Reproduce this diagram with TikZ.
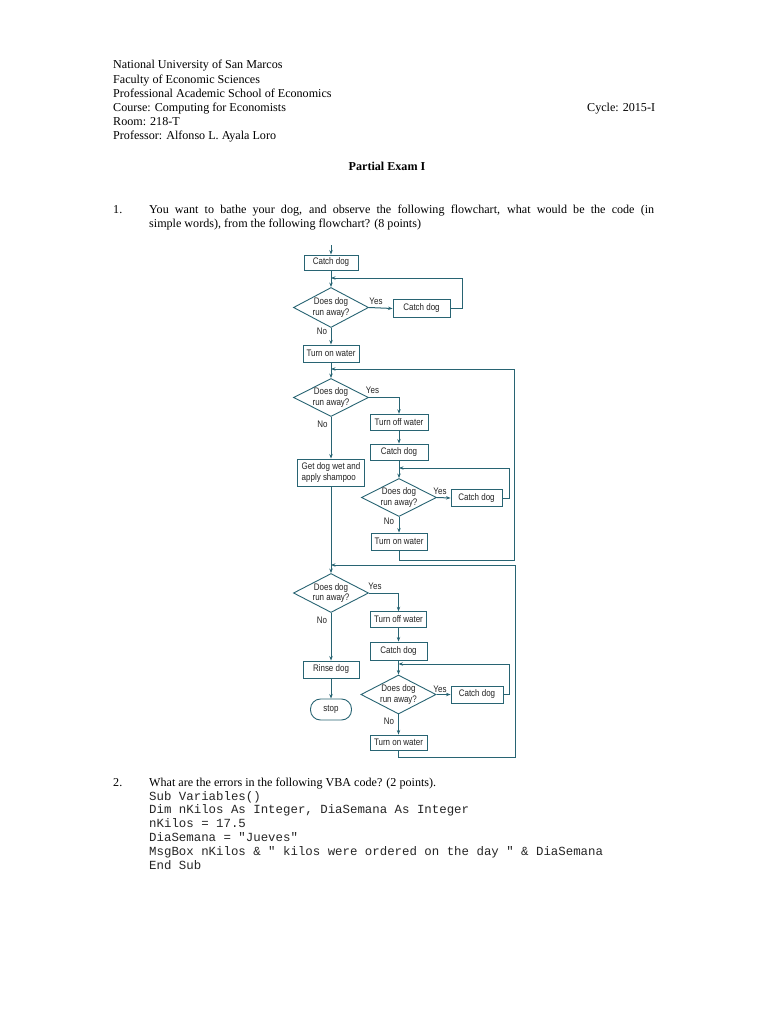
\documentclass[tikz,border=0pt]{standalone}
\usepackage{fontspec}
\usepackage{graphicx}
\setmainfont{Liberation Serif}
\setmonofont{Liberation Mono}
\newfontfamily\flowfont{Liberation Sans}
\usetikzlibrary{shapes.geometric,arrows.meta}
\definecolor{flowline}{RGB}{40,100,115}
\definecolor{flowtext}{RGB}{35,35,35}
\newcommand\ft[1]{\scalebox{0.84}[1]{#1}}
\begin{document}
\begin{tikzpicture}[x=1pt,y=-1pt,
  hdr/.style={anchor=base west, inner sep=0pt, font=\fontsize{12.1}{14}\selectfont},
  code/.style={anchor=base west, inner sep=0pt, text=black!85, font=\ttfamily\fontsize{12.4}{14}\selectfont},
  pbox/.style={draw=flowline, line width=0.9pt, fill=white, inner sep=0pt, text=flowtext,
    font=\flowfont\fontsize{9.5}{10.3}\selectfont, align=center},
  dbox/.style={pbox, diamond, aspect=2},
  lbl/.style={inner sep=0pt, text=flowtext, font=\flowfont\fontsize{9.5}{10}\selectfont},
  conn/.style={draw=flowline, line width=1pt, -{Stealth[length=4.5pt,width=3.4pt]}},
  wire/.style={draw=flowline, line width=1pt}]
\useasboundingbox[fill=white] (0,0) rectangle (768,1024);

% ---------- header ----------
\node[hdr] (h1) at (113,69) {National University of San Marcos};
\node[hdr] (h2) at (113,83.5) {Faculty of Economic Sciences};
\node[hdr] (h3) at (113,97.5) {Professional Academic School of Economics};
\node[hdr] (h4) at (113,111.5) {Course: Computing for Economists};
\node[hdr] (h5) at (587,111.5) {Cycle: 2015-I};
\node[hdr] (h6) at (113,125.5) {Room: 218-T};
\node[hdr] (h7) at (113,139.5) {Professor: Alfonso L. Ayala Loro};
\node[hdr, anchor=base, font=\bfseries\fontsize{12.1}{14}\selectfont] (title) at (387,171) {Partial Exam I};

% ---------- question 1 ----------
\node[hdr] (q1n) at (113,213.5) {1.};
\node[hdr] (q1a) at (149,213.5) {\makebox[505pt][s]{You want to bathe your dog, and observe the following flowchart, what would be the code (in}};
\node[hdr] (q1b) at (149,227.5) {simple words), from the following flowchart? (8 points)};

% ---------- flowchart ----------
\coordinate (s0) at (331,245);
\node[pbox, minimum width=54pt, minimum height=15pt] (c1) at (331,262.5) {\ft{Catch dog}};
\node[dbox, minimum width=74pt, minimum height=40pt] (d1) at (331,307.5) {\ft{Does dog}\\\ft{run away?}};
\node[pbox, minimum width=57pt, minimum height=18pt] (c2) at (421.5,308.5) {\ft{Catch dog}};
\node[pbox, minimum width=56pt, minimum height=17pt] (w1) at (331,353.5) {\ft{Turn on water}};
\node[lbl] (y1) at (376,301) {\ft{Yes}};
\node[lbl] (n1) at (322,331) {\ft{No}};
\coordinate (j1) at (331,278);

\node[dbox, minimum width=73pt, minimum height=38pt] (d2) at (331,397.5) {\ft{Does dog}\\\ft{run away?}};
\node[pbox, minimum width=58pt, minimum height=16.5pt] (off1) at (399,422.5) {\ft{Turn off water}};
\node[pbox, minimum width=58pt, minimum height=16pt] (c3) at (399,452) {\ft{Catch dog}};
\node[dbox, minimum width=73pt, minimum height=38pt] (d3) at (399,497.5) {\ft{Does dog}\\\ft{run away?}};
\node[pbox, minimum width=51pt, minimum height=17.5pt] (c4) at (476.5,498) {\ft{Catch dog}};
\node[pbox, minimum width=56pt, minimum height=17pt] (w2) at (399,541.5) {\ft{Turn on water}};
\node[pbox, minimum width=67pt, minimum height=27pt, align=left] (g1) at (331,472.5) {\ft{Get dog wet and}\\\ft{apply shampoo}};
\node[lbl] (y2) at (372.5,390) {\ft{Yes}};
\node[lbl] (n2) at (322.5,424) {\ft{No}};
\node[lbl] (y3) at (440,491) {\ft{Yes}};
\node[lbl] (n3) at (389,521.5) {\ft{No}};
\coordinate (j2) at (331,369);
\coordinate (r1) at (514,560);
\coordinate (j3) at (399,468);

\node[dbox, minimum width=75pt, minimum height=39pt] (d4) at (331,593) {\ft{Does dog}\\\ft{run away?}};
\node[pbox, minimum width=56pt, minimum height=15.5pt] (off2) at (398.5,619.5) {\ft{Turn off water}};
\node[pbox, minimum width=57pt, minimum height=18pt] (c5) at (398.5,651) {\ft{Catch dog}};
\node[dbox, minimum width=73pt, minimum height=39pt] (d5) at (398.5,694.5) {\ft{Does dog}\\\ft{run away?}};
\node[pbox, minimum width=52pt, minimum height=17pt] (c6) at (477,694.5) {\ft{Catch dog}};
\node[pbox, minimum width=57pt, minimum height=15pt] (w3) at (398.5,742.5) {\ft{Turn on water}};
\node[pbox, minimum width=56pt, minimum height=17pt] (rinse) at (331,669.5) {\ft{Rinse dog}};
\node[pbox, minimum width=41pt, minimum height=21pt, rounded corners=10pt] (stop) at (331,709.5) {\ft{stop}};
\node[lbl] (y4) at (375,586) {\ft{Yes}};
\node[lbl] (n4) at (322,620) {\ft{No}};
\node[lbl] (y5) at (440,689) {\ft{Yes}};
\node[lbl] (n5) at (389,721) {\ft{No}};
\coordinate (j4) at (331,565);
\coordinate (r2) at (515,757);
\coordinate (j5) at (398.5,664);

% connectors
\draw[conn] (s0) -- (c1);
\draw[conn] (c1) -- (d1);
\draw[conn] (d1.east) -- (c2.west);
\draw[conn] (c2.east) -- ++(12,0) |- (j1);
\draw[conn] (d1.south) -- (w1);
\draw[conn] (w1) -- (d2);

\draw[conn] (d2.east) -| (off1.north);
\draw[conn] (off1) -- (c3);
\draw[conn] (c3) -- (d3);
\draw[conn] (d3.east) -- (c4.west);
\draw[conn] (c4.east) -- ++(7.5,0) |- (j3);
\draw[conn] (d3.south) -- (w2);
\draw[conn] (w2.south) |- (r1) |- (j2);
\draw[conn] (d2.south) -- (g1);
\draw[conn] (g1.south) -- (d4.north);

\draw[conn] (d4.east) -| (off2.north);
\draw[conn] (off2) -- (c5);
\draw[conn] (c5) -- (d5);
\draw[conn] (d5.east) -- (c6.west);
\draw[conn] (c6.east) -- ++(6,0) |- (j5);
\draw[conn] (d5.south) -- (w3);
\draw[conn] (w3.south) |- (r2) |- (j4);
\draw[conn] (d4.south) -- (rinse);
\draw[conn] (rinse) -- (stop);

% ---------- question 2 ----------
\node[hdr] (q2n) at (113,786) {2.};
\node[hdr] (q2a) at (149,786) {What are the errors in the following VBA code? (2 points).};
\node[code] (k1) at (149,800) {Sub Variables()};
\node[code] (k2) at (149,813.8) {Dim nKilos As Integer, DiaSemana As Integer};
\node[code] (k3) at (149,827.6) {nKilos = 17.5};
\node[code] (k4) at (149,841.4) {DiaSemana = "Jueves"};
\node[code] (k5) at (149,855.2) {MsgBox nKilos \& " kilos were ordered on the day " \& DiaSemana};
\node[code] (k6) at (149,869) {End Sub};
\end{tikzpicture}
\end{document}
